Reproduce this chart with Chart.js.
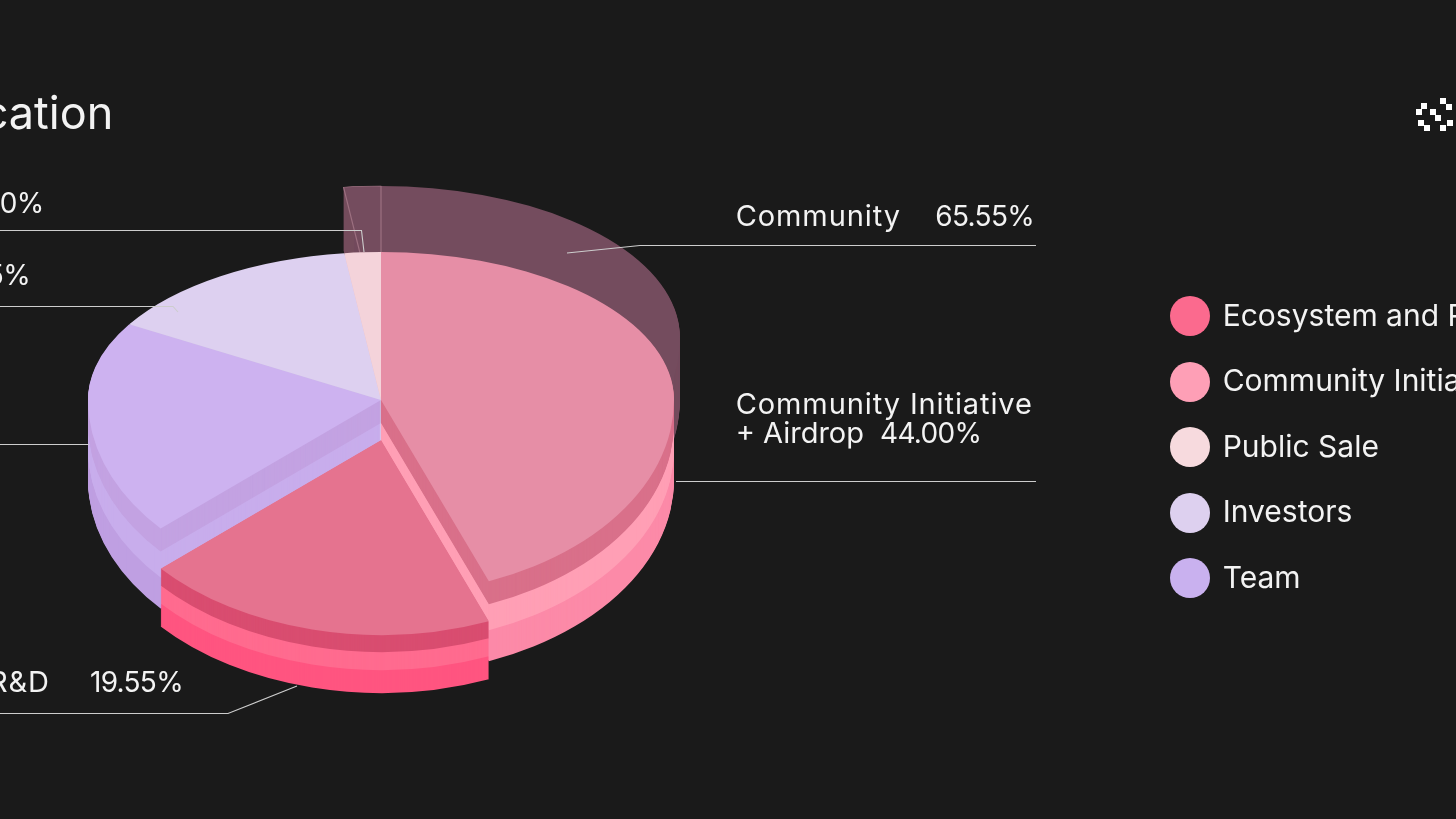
<!DOCTYPE html>
<html>
<head>
<meta charset="utf-8">
<title>Token Allocation</title>
<script src="https://cdn.jsdelivr.net/npm/chart.js@4.4.1/dist/chart.umd.min.js"></script>
<style>
  html, body { margin: 0; padding: 0; background: #1a1a1a; overflow: hidden; }
  body { width: 1456px; height: 819px; position: relative; font-family: Inter, "Noto Sans", sans-serif; color: #f3f3f3; }
  #pie { position: absolute; left: 0; top: 0; }
  #lines { position: absolute; left: 0; top: 0; }
  .txt { position: absolute; white-space: nowrap; line-height: 1; }
  .nm { letter-spacing: 0.9px; }
  .val { letter-spacing: -0.7px; font-size: 28px; }
  .dot { position: absolute; width: 40px; height: 40px; border-radius: 50%; }
</style>
</head>
<body>
<canvas id="pie" width="1456" height="819"></canvas>
<svg id="lines" width="1456" height="819"></svg>
<script>
// ---- data (legend order) ----
const categories = ['Ecosystem and R&D', 'Community Initiative + Airdrop', 'Public Sale', 'Investors', 'Team'];
const shares = [19.55, 44.00, 2.00, 14.45, 20.00];
// clockwise from 12 o'clock the pie runs CI, Ecosystem, Team, Investors, Public Sale
const pieOrder = [1, 0, 4, 3, 2];
// slices that make up the raised "Community" wedge
const communityGroup = ['Ecosystem and R&D', 'Community Initiative + Airdrop', 'Public Sale'];

// ---- styles ----
const W = 1456, H = 819;
const legendColors = ['#fb6a8e', '#fe9fb6', '#f7dade', '#ddd0ef', '#c9b1ef'];
const topColors = {
  'Ecosystem and R&D': '#e5738f',
  'Community Initiative + Airdrop': '#e68ea6',
  'Public Sale': '#f4d3da',
  'Investors': '#ddd0f0',
  'Team': '#cdb2f0'
};
const sideBands = {
  'Ecosystem and R&D': ['#d94d70', '#ff6b8f', '#ff5580'],
  'Community Initiative + Airdrop': ['#d9708a', '#ff9fb5', '#fc8aa8'],
  'Public Sale': ['#e8c0c8', '#f7d5dc', '#efc8d0'],
  'Investors': ['#cbbde0', '#d8cbec', '#cfc1e4'],
  'Team': ['#c3a2e2', '#c8adec', '#bf9fe2']
};
const ghostColor = '#744c5e';
const apex = { x: 381, y: 400 };
const pieRadius = 293;
const kFar = 148 / 293, kNear = 195 / 293;
const sideDepth = 80;
const depthOverride = { 'Ecosystem and R&D': 58 };
const drops = { 'Ecosystem and R&D': 40 };
const ghostRise = 63;
const ghostGrow = 1.02;

// draw one arc element squashed into an "egg" ellipse centred at screen y = cy
function paintArc(ctx, el, color, cy, grow, border) {
  const f = Object.create(el);
  f.options = Object.assign({}, el.options, {
    backgroundColor: color,
    borderColor: border || color,
    borderWidth: border ? 1.2 : 0
  });
  const g = grow || 1;
  const halves = [[0, cy, kFar], [cy, H, kNear]];
  for (const [y0, y1, k] of halves) {
    ctx.save();
    ctx.beginPath();
    ctx.rect(0, y0, W, y1 - y0);
    ctx.clip();
    ctx.translate(apex.x, cy);
    ctx.scale(g, g * k);
    ctx.translate(-el.x, -el.y);
    f.draw(ctx);
    ctx.restore();
  }
}

const pie3d = {
  id: 'pie3d',
  beforeDatasetsDraw(chart) {
    const ctx = chart.ctx;
    const meta = chart.getDatasetMeta(0);
    const slices = meta.data.map((el, j) => ({ el, name: chart.data.labels[j] }));

    // raised community wedge, sitting behind the body
    for (let h = 0; h <= ghostRise; h++) {
      slices.forEach(s => {
        if (communityGroup.indexOf(s.name) < 0) return;
        const seam = (h === ghostRise && s.name === 'Public Sale') ? '#9c7080' : null;
        paintArc(ctx, s.el, ghostColor, apex.y - h, ghostGrow, seam);
      });
    }

    // body, painted bottom layer first
    let maxOff = 0;
    slices.forEach(s => {
      const dep = depthOverride[s.name] || sideDepth;
      maxOff = Math.max(maxOff, (drops[s.name] || 0) + dep);
    });
    for (let off = maxOff; off >= 0; off--) {
      slices.forEach(s => {
        const d = drops[s.name] || 0;
        const dep = depthOverride[s.name] || sideDepth;
        if (off < d || off > d + dep) return;
        const t = (off - d) / dep;
        const bands = sideBands[s.name];
        let color;
        if (off === d) color = topColors[s.name];
        else if (t < 0.3) color = bands[0];
        else if (t < 0.62) color = bands[1];
        else color = bands[2];
        paintArc(ctx, s.el, color, apex.y + off);
      });
    }
    return false;
  }
};

const pieLabels = pieOrder.map(i => categories[i]);
const pieValues = pieOrder.map(i => shares[i]);
const pieColors = pieOrder.map(i => legendColors[i]);

new Chart(document.getElementById('pie'), {
  type: 'pie',
  data: {
    labels: pieLabels,
    datasets: [{
      data: pieValues,
      backgroundColor: pieColors,
      borderWidth: 0
    }]
  },
  options: {
    responsive: false,
    animation: false,
    events: [],
    radius: pieRadius,
    layout: { padding: { left: apex.x - pieRadius, right: W - apex.x - pieRadius, top: 0, bottom: H - 2 * pieRadius } },
    plugins: { legend: { display: false }, tooltip: { enabled: false } }
  },
  plugins: [pie3d]
});

// ---- text ----
function pct(v) { return v.toFixed(2) + '%'; }
function share(name) { return shares[categories.indexOf(name)]; }
function esc(s) { return s.replace(/&/g, '&amp;'); }

function placeText(html, size, baseline, left, right) {
  const d = document.createElement('div');
  d.className = 'txt';
  d.innerHTML = html;
  d.style.fontSize = size + 'px';
  d.style.top = (baseline - 0.8635 * size) + 'px';
  if (left != null) d.style.left = left + 'px';
  else d.style.right = (W - right) + 'px';
  document.body.appendChild(d);
  return d;
}
function nm(s) { return '<span class="nm">' + esc(s) + '</span>'; }
function val(v) { return '<span class="val">' + pct(v) + '</span>'; }

placeText('Token Allocation', 45, 129.3, null, 113.3);

const communityTotal = communityGroup.reduce((a, n) => a + share(n), 0);
placeText(nm('Community'), 29, 226, 735.7);
placeText(val(communityTotal), 29, 226, null, 1034);

const ciName = categories[1].split(' + ');
placeText(nm(ciName[0]), 29, 414, 735.7);
placeText(esc('+ ' + ciName[1]), 29, 443.3, 735.7);
placeText(val(share(categories[1])), 29, 443.3, 880);

function sideLabel(name, baseline, right, gap) {
  placeText(nm(name) + '<span style="display:inline-block;width:' + gap + 'px"></span>' + val(share(name)), 29, baseline, null, right);
}
sideLabel('Public Sale', 212.7, 43.5, 34);
sideLabel('Investors', 285, 30, 34);
sideLabel('Team', 424, -4, 34);
sideLabel('Ecosystem and R&D', 692, 183, 40);

// leader lines
const leaders = [
  [[0, 230.5], [361.5, 230.5], [364, 252]],
  [[0, 306.5], [173, 306.5], [178, 312]],
  [[0, 444.5], [88.7, 444.5]],
  [[0, 713.5], [228, 713.5], [297, 686]],
  [[567, 253], [640, 245.5], [1036, 245.5]],
  [[676, 481.5], [1036, 481.5]]
];
const svg = document.getElementById('lines');
let svgHtml = '';
leaders.forEach(pts => {
  svgHtml += '<polyline fill="none" stroke="#cdcdcd" stroke-width="1.1" points="' +
    pts.map(p => p.join(',')).join(' ') + '"/>';
});
// logo mark
const logoSquares = [[1421, 103], [1440, 98], [1446, 104], [1416, 109], [1430, 109], [1435, 115], [1418, 120], [1447, 120], [1424, 125], [1440, 125]];
logoSquares.forEach(p => {
  svgHtml += '<rect x="' + p[0] + '" y="' + p[1] + '" width="6" height="6" fill="#ffffff"/>';
});
svg.innerHTML = svgHtml;

// legend
categories.forEach((name, i) => {
  const cy = 316 + i * 65.5;
  const dot = document.createElement('div');
  dot.className = 'dot';
  dot.style.left = '1170px';
  dot.style.top = (cy - 20) + 'px';
  dot.style.background = legendColors[i];
  document.body.appendChild(dot);
  placeText(esc(name), 30, cy + 9.5, 1222.7);
});
</script>
</body>
</html>
